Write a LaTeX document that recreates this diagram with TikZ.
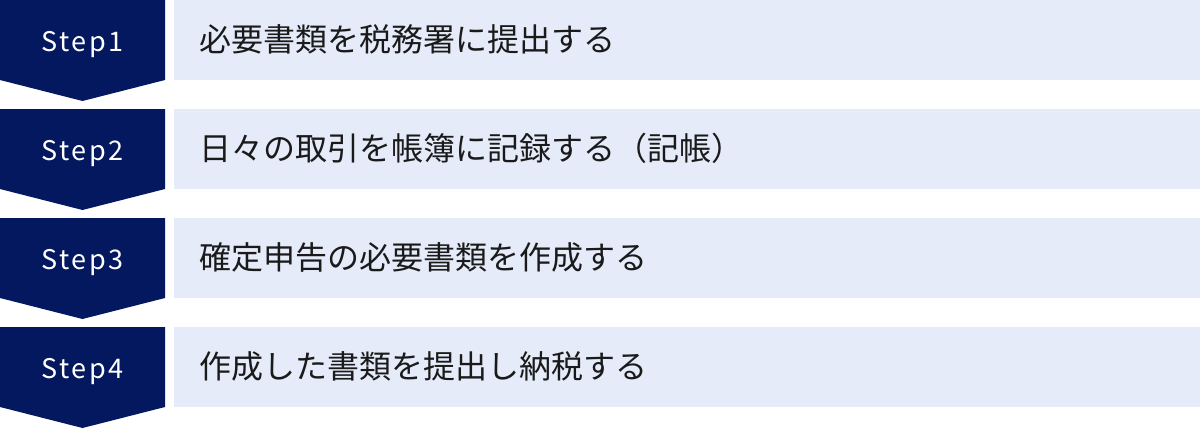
\documentclass[tikz,border=0pt]{standalone}
\usepackage{fontspec}
\setmainfont{Noto Sans CJK JP}
\definecolor{navy}{RGB}{4,24,96}
\definecolor{pale}{RGB}{229,235,249}
\definecolor{ink}{RGB}{26,26,26}
\begin{document}
\begin{tikzpicture}[x=1pt,y=-1pt,
  stepshape/.style={fill=navy,draw=none},
  barshape/.style={fill=pale,draw=none},
  steplabel/.style={text=white,font=\fontsize{27}{32}\selectfont\addfontfeature{LetterSpace=9},inner sep=0,anchor=base},
  barlabel/.style={text=ink,font=\fontsize{32}{38}\selectfont,inner sep=0,anchor=base west}]
\useasboundingbox (0,0) rectangle (1200,429);
\foreach \i/\t in {0/必要書類を税務署に提出する,1/日々の取引を帳簿に記録する（記帳）,2/確定申告の必要書類を作成する,3/作成した書類を提出し納税する}{
  \pgfmathsetmacro{\yy}{\i*109}
  \pgfmathtruncatemacro{\n}{\i+1}
  \fill[stepshape] (0,\yy) -- (165,\yy) -- (165,\yy+80) -- (82.5,\yy+101) -- (0,\yy+80) -- cycle;
  \fill[barshape] (174,\yy) rectangle (1200,\yy+80);
  \node[steplabel] (s\n) at (82.5,\yy+51) {Step\n};
  \node[barlabel] (t\n) at (199,\yy+51) {\t};
}
\end{tikzpicture}
\end{document}
